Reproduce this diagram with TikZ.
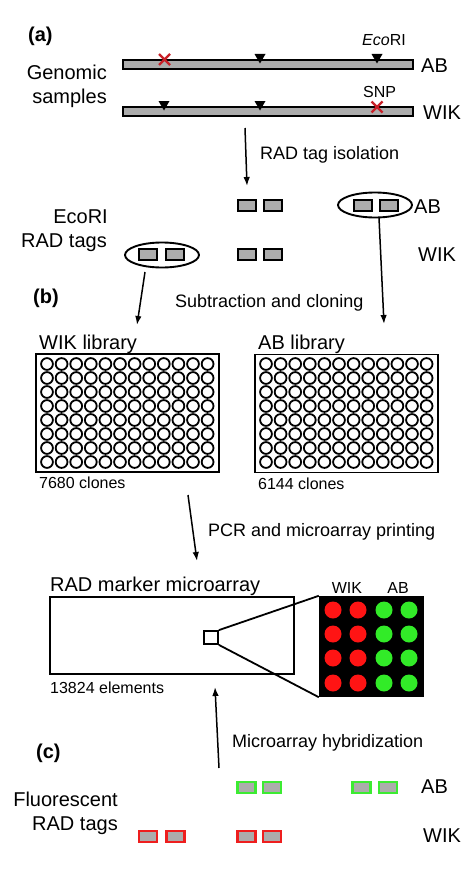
\documentclass[tikz,border=0pt]{standalone}
\usepackage{fontspec}
\setmainfont{Liberation Sans}
\usetikzlibrary{shapes.geometric,arrows.meta}
\definecolor{tgray}{RGB}{172,172,172}
\definecolor{xred}{RGB}{200,32,40}
\definecolor{fgreen}{RGB}{60,235,50}
\definecolor{fred}{RGB}{238,30,30}
\definecolor{dred}{RGB}{255,20,20}
\definecolor{dgreen}{RGB}{50,235,40}
\begin{document}
\begin{tikzpicture}[x=1pt,y=-1pt,
  lbl/.style={font=\fontsize{20}{24}\selectfont, inner sep=0pt, anchor=base west},
  lblr/.style={font=\fontsize{20}{24}\selectfont, inner sep=0pt, anchor=base east},
  steplbl/.style={font=\fontsize{18}{22}\selectfont, inner sep=0pt, anchor=base west},
  small/.style={font=\fontsize{16}{19}\selectfont, inner sep=0pt, anchor=base west},
  panel/.style={font=\bfseries\fontsize{20}{24}\selectfont, inner sep=0pt, anchor=base west},
  bar/.style={draw, fill=tgray, line width=1.9pt, minimum width=290pt, minimum height=9.5pt, inner sep=0pt},
  tagbox/.style={draw, fill=tgray, line width=2pt, minimum width=18pt, minimum height=11pt, inner sep=0pt},
  gtag/.style={tagbox, draw=fgreen, line width=2.2pt},
  rtag/.style={tagbox, draw=fred, line width=2.2pt},
  oval/.style={draw, ellipse, line width=1.9pt, minimum width=74pt, minimum height=25pt, inner sep=0pt},
  site/.style={fill=black},
  xmark/.style={draw=xred, line width=2.4pt},
  arr/.style={line width=1.5pt, -{Latex[length=9pt,width=6.5pt]}},
  plate/.style={draw, line width=1.9pt, inner sep=0pt},
  well/.style={line width=1.8pt}
]
\useasboundingbox (0,0) rectangle (474,875);

% ---------- (a) ----------
\node[panel] (pa) at (28,42) {(a)};
\node[bar] (barAB) at (268,64.5) {};
\node[bar] (barWIK) at (268,111.5) {};
\node[small] (eco) at (362,46) {\textit{Eco}RI};
\node[small] (snp) at (363,97) {SNP};
\node[lbl] (lAB1) at (421,73) {AB};
\node[lbl] (lWIK1) at (423,119) {WIK};
\node[lblr] (gen1) at (107,79) {Genomic};
\node[lblr] (gen2) at (107,103) {samples};
\foreach \x in {260,377} \fill[site] (\x-5.5,54) -- (\x+5.5,54) -- (\x,63.5) -- cycle;
\foreach \x in {164,260} \fill[site] (\x-5.5,101) -- (\x+5.5,101) -- (\x,110.5) -- cycle;
\draw[xmark] (159,54) -- (170,65) (159,65) -- (170,54);
\draw[xmark] (371.5,101.5) -- (382.5,112.5) (371.5,112.5) -- (382.5,101.5);

\coordinate (isoA) at (245,128);
\coordinate (isoB) at (247,186);
\draw[arr] (isoA) -- (isoB);
\node[steplbl] (iso) at (260,159) {RAD tag isolation};

% RAD tags
\node[tagbox] (t1) at (247,205.5) {};
\node[tagbox] (t2) at (272.5,205.5) {};
\node[tagbox] (t3) at (362.5,205.5) {};
\node[tagbox] (t4) at (388.5,205.5) {};
\node[tagbox] (t5) at (148,254.5) {};
\node[tagbox] (t6) at (174.5,254.5) {};
\node[tagbox] (t7) at (247,254.5) {};
\node[tagbox] (t8) at (272.5,254.5) {};
\node[oval] (ovR) at (375,205) {};
\node[oval] (ovL) at (162,255) {};
\node[lbl] (lAB2) at (414,213) {AB};
\node[lbl] (lWIK2) at (418,261) {WIK};
\node[lblr] (rt1) at (108,223) {EcoRI};
\node[lblr] (rt2) at (107,247) {RAD tags};

% ---------- (b) ----------
\node[panel] (pb) at (33,303) {(b)};
\node[steplbl] (sub) at (175,307) {Subtraction and cloning};
\coordinate (wikIn) at (137,325);
\coordinate (abIn) at (384,324);
\coordinate (ovLs) at (145,272);
\coordinate (ovRs) at (379,218);
\draw[arr] (ovLs) -- (wikIn);
\draw[arr] (ovRs) -- (abIn);

\node[lbl] (wiklib) at (39,349) {WIK library};
\node[lbl] (ablib) at (258,349) {AB library};
\node[plate, minimum width=183pt, minimum height=118pt] (pWIK) at (127.5,413) {};
\node[plate, minimum width=183pt, minimum height=118pt] (pAB) at (346.5,413.5) {};
\foreach \i in {0,...,11} \foreach \j in {0,...,7} {
  \draw[well] (47+14.6*\i, 364+14*\j) circle (5.9);
  \draw[well] (266+14.6*\i, 364+14*\j) circle (5.9);
}
\node[small] (c1) at (39,488) {7680 clones};
\node[small] (c2) at (258,489) {6144 clones};

\coordinate (pcrA) at (188,495);
\coordinate (pcrB) at (197,561);
\draw[arr] (pcrA) -- (pcrB);
\node[steplbl] (pcr) at (208,536) {PCR and microarray printing};

\node[lbl] (ram) at (50,591) {RAD marker microarray};
\node[plate, minimum width=244pt, minimum height=77pt] (chip) at (172,635.5) {};
\node[draw, line width=1.8pt, minimum width=14pt, minimum height=13pt, inner sep=0pt] (spot) at (211,637.5) {};
\node[fill=black, minimum width=105pt, minimum height=101pt, inner sep=0pt] (zoomsq) at (371.5,646.5) {};
\draw[line width=1.8pt] (spot.north east) -- (zoomsq.north west);
\draw[line width=1.8pt] (spot.south east) -- (zoomsq.south west);
\foreach \y in {610,634,658,683} {
  \fill[dred] (333,\y) circle (8.5);
  \fill[dred] (358,\y) circle (8.5);
  \fill[dgreen] (384,\y) circle (8.5);
  \fill[dgreen] (409,\y) circle (8.5);
}
\node[small, anchor=base] (zw) at (347,593) {WIK};
\node[small, anchor=base] (za) at (398,593) {AB};
\node[small] (el) at (50,693) {13824 elements};

% ---------- (c) ----------
\coordinate (hybA) at (219,768);
\coordinate (hybB) at (215,687);
\draw[arr] (hybA) -- (hybB);
\node[steplbl] (hyb) at (232,747) {Microarray hybridization};
\node[panel] (pc) at (36,758) {(c)};

\node[gtag] (f1) at (246.5,787.5) {};
\node[gtag] (f2) at (272,787.5) {};
\node[gtag] (f3) at (361.5,787.5) {};
\node[gtag] (f4) at (388,787.5) {};
\node[rtag] (f5) at (148,836.5) {};
\node[rtag] (f6) at (175.5,836.5) {};
\node[rtag] (f7) at (246.5,836.5) {};
\node[rtag] (f8) at (272,836.5) {};
\node[lbl] (lAB3) at (421,793) {AB};
\node[lbl] (lWIK3) at (423,842) {WIK};
\node[lblr] (fl1) at (118,806) {Fluorescent};
\node[lblr] (fl2) at (118,830) {RAD tags};
\end{tikzpicture}
\end{document}
